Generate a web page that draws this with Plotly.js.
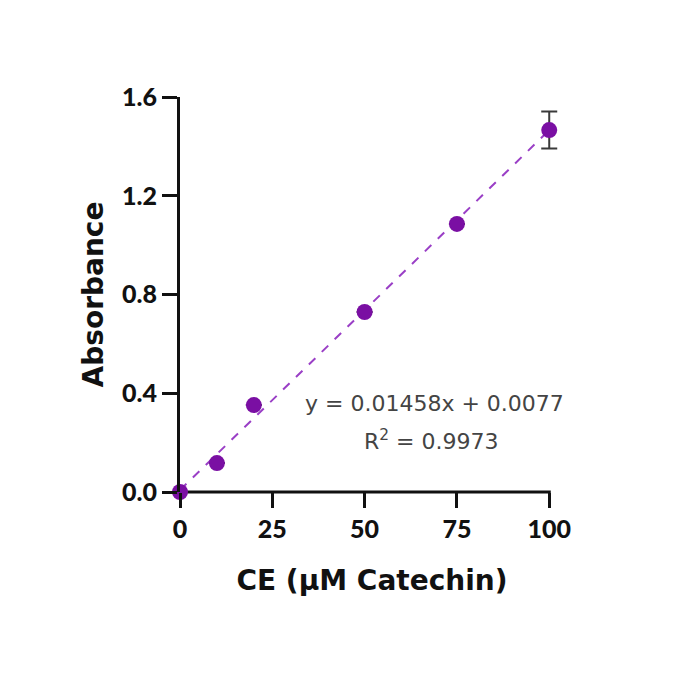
<!DOCTYPE html>
<html><head><meta charset="utf-8">
<script src="https://cdn.plot.ly/plotly-3.0.1.min.js"></script>
<style>html,body{margin:0;padding:0;background:#fff}</style>
</head><body>
<div id="chart" style="width:700px;height:700px"></div>
<script>
const concentration = [0, 10, 20, 50, 75, 100];
const absorbance = [0, 0.117, 0.352, 0.729, 1.086, 1.466];
const errorSD = [0, 0, 0, 0, 0, 0.075];
const fitSlope = 0.01458;
const fitIntercept = 0.0077;
const fitX = [0, 100];
const xTicks = [0, 25, 50, 75, 100];
const yTicks = [0, 0.4, 0.8, 1.2, 1.6];

const purple = '#7a0fa3';
const xMax = 104; // extra room so the error-bar caps at x=100 are not clipped
const axisEnd = 100 / xMax;

const traces = [
  {
    x: fitX, y: fitX.map(v => fitSlope * v + fitIntercept),
    mode: 'lines', type: 'scatter',
    line: {color: '#9a3fc6', width: 2, dash: 'dash'},
    hoverinfo: 'skip', cliponaxis: false
  },
  {
    x: concentration, y: absorbance, mode: 'markers', type: 'scatter',
    marker: {color: purple, size: 16},
    error_y: {type: 'data', array: errorSD, visible: true, color: '#3a3a3a', thickness: 2, width: 8},
    cliponaxis: false
  }
];

const tickFont = {family: 'Lato, "DejaVu Sans", sans-serif', size: 25, color: '#111', weight: 900};
const titleFont = {family: '"DejaVu Sans", sans-serif', size: 28, color: '#111', weight: 'bold'};
const noteFont = {family: '"DejaVu Sans", sans-serif', size: 22, color: '#444'};

const layout = {
  width: 700, height: 700,
  margin: {l: 180, r: 136.24, t: 97, b: 208},
  showlegend: false,
  paper_bgcolor: '#fff', plot_bgcolor: '#fff',
  xaxis: {
    range: [0, xMax], tickvals: xTicks, ticktext: xTicks.map(String),
    showgrid: false, zeroline: false, showline: false,
    ticks: 'outside', ticklen: 15, tickwidth: 3, tickcolor: '#111',
    tickfont: tickFont,
    title: {text: 'CE (µM Catechin)', font: titleFont, standoff: 28}
  },
  yaxis: {
    range: [0, 1.6], tickvals: yTicks, ticktext: yTicks.map(v => v.toFixed(1)),
    showgrid: false, zeroline: false, showline: true, linecolor: '#111', linewidth: 3,
    ticks: 'outside', ticklen: 15, tickwidth: 3, tickcolor: '#111',
    tickfont: tickFont,
    title: {text: 'Absorbance', font: titleFont, standoff: 11}
  },
  shapes: [
    {type: 'line', xref: 'paper', yref: 'paper', x0: -0.004, x1: axisEnd + 0.004, y0: 0, y1: 0,
     line: {color: '#111', width: 3}, layer: 'below'}
  ],
  annotations: [
    {xref: 'paper', yref: 'paper', x: 0.664, y: 0.225, xanchor: 'center', yanchor: 'middle',
     text: 'y = 0.01458x + 0.0077', showarrow: false, font: noteFont},
    {xref: 'paper', yref: 'paper', x: 0.654, y: 0.132, xanchor: 'center', yanchor: 'middle',
     text: 'R<sup>2</sup> = 0.9973', showarrow: false, font: noteFont}
  ]
};

Plotly.newPlot('chart', traces, layout, {displayModeBar: false, staticPlot: true});
</script>
</body></html>
